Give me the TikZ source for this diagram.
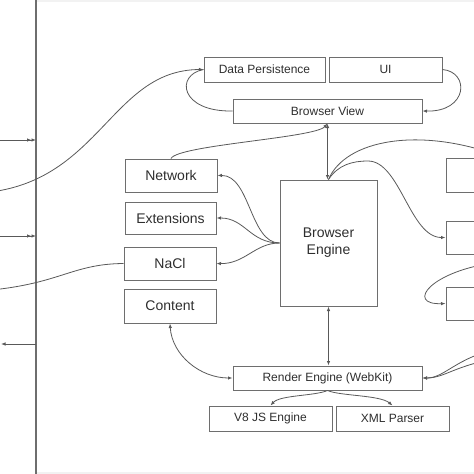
\documentclass[tikz,border=0pt]{standalone}
\usepackage{fontspec}
\setmainfont{Liberation Sans}
\usetikzlibrary{positioning,arrows.meta}
\definecolor{linegray}{HTML}{595959}
\definecolor{boxgray}{HTML}{6E6E6E}
\definecolor{textgray}{HTML}{2E2E2E}
\tikzset{%
  module/.style={
    draw=boxgray,
    line width=1pt,
    inner sep=0pt,
    text=textgray,
    font=\fontsize{12}{14}\selectfont
  },
  big module/.style={
    module,
    align=center,
    font=\fontsize{14}{17}\selectfont
  },
}
\begin{document}
\begin{tikzpicture}[x=1pt,y=-1pt,>={Latex[length=4.5pt,width=3.5pt]}]
      \tikzstyle{link}=[draw=linegray,line width=0.8pt]
      \clip (0,0) rectangle (474,474);
      \fill[gray!10] (37,0) rectangle (474,2);
      \fill[gray!10] (37,472) rectangle (474,474);

      \coordinate (wtop) at (36,0);
      \coordinate (wbot) at (36,474);
      \draw[draw=boxgray,line width=1.2pt] (wtop) -- (wbot);

      \node[module,minimum width=121pt,minimum height=25pt] (datap) at (264.5,69.5) {Data Persistence};
      \node[module,minimum width=113pt,minimum height=25pt,right=3pt of datap] (ui) {UI};
      \node[module,minimum width=189pt,minimum height=24pt] (bview) at (327.5,111) {Browser View};

      \node[big module,minimum width=92pt,minimum height=33pt] (network) at (171,175.5) {Network};
      \node[big module,minimum width=91pt,minimum height=32pt] (ext) at (170.5,218) {Extensions};
      \node[big module,minimum width=92pt,minimum height=33pt] (nacl) at (170,263.5) {NaCl};
      \node[big module,minimum width=92pt,minimum height=34pt] (content) at (170,306) {Content};

      \node[big module,minimum width=97pt,minimum height=126pt] (bengine) at (328.5,243) {Browser\\Engine};

      \node[module,minimum width=92pt,minimum height=34pt] (east1) at (492,175) {};
      \node[module,minimum width=92pt,minimum height=33pt] (east2) at (492,237.5) {};
      \node[module,minimum width=92pt,minimum height=33pt] (east3) at (492,303.5) {};

      \node[module,minimum width=189pt,minimum height=24pt] (render) at (327.5,378) {Render Engine (WebKit)};
      \node[module,minimum width=123pt,minimum height=25pt] (v8) at (270.5,418.5) {V8 JS Engine};
      \node[module,minimum width=113pt,minimum height=25pt,right=3pt of v8] (xml) {XML Parser};

      % left edge
      \coordinate (inA) at (0,140);
      \coordinate (inB) at (0,236);
      \coordinate (outC) at (1,344);
      \coordinate (srcD) at (-20,193);
      \coordinate (srcN) at (-20,291);
      \draw[link,->>] (inA) -- (inA -| wtop);
      \draw[link,->>] (inB) -- (inB -| wtop);
      \draw[link,->] (outC -| wtop) -- (outC);
      \draw[link,->] (srcD) .. controls (100,185) and (110,70) .. (datap.west);
      \draw[link] (srcN) .. controls (60,285) and (70,264) .. (nacl.west);

      % top
      \draw[link] (datap.west) .. controls (175,75) and (180,112) .. (bview.west);
      \draw[link,->] (ui.east) .. controls (470,72) and (468,112) .. (bview.east);
      \draw[link,<->] (bview.south) -- (bview.south |- bengine.north);
      \draw[link,->] (network.north) .. controls (178,145) and (315,138) .. (bview.south);

      % browser engine
      \coordinate (dstR) at (505,158);
      \draw[link] (bengine.north) .. controls (345,140) and (420,125) .. (dstR);
      \draw[link,->] (bengine.north) .. controls (338,165) and (352,161) .. (368,161)
                     .. controls (400,161) and (410,237.5) .. (east2.west);
      \draw[link,->] (bengine.west) .. controls (250,243) and (250,175) .. (network.east);
      \draw[link,->] (bengine.west) .. controls (250,243) and (245,218) .. (ext.east);
      \draw[link,->] (bengine.west) .. controls (255,243) and (245,264) .. (nacl.east);
      \draw[link,<->] (bengine.south) -- (bengine.south |- render.north);

      % render engine
      \coordinate (srcR2) at (500,262);
      \coordinate (srcR3) at (500,348);
      \coordinate (srcR4) at (500,358);
      \draw[link,->] (srcR2) .. controls (430,270) and (405,305) .. (east3.west);
      \draw[link,->] (srcR3) .. controls (455,358) and (445,378) .. (render.east);
      \draw[link,->] (srcR4) .. controls (455,365) and (445,378) .. (render.east);
      \draw[link,<->] (content.south) .. controls (172,355) and (200,378) .. (render.west);
      \draw[link,->] (render.south) .. controls (315,396) and (280,395) .. (v8.north);
      \draw[link,->] (render.south) .. controls (340,396) and (380,395) .. (xml.north);
  \end{tikzpicture}
\end{document}
